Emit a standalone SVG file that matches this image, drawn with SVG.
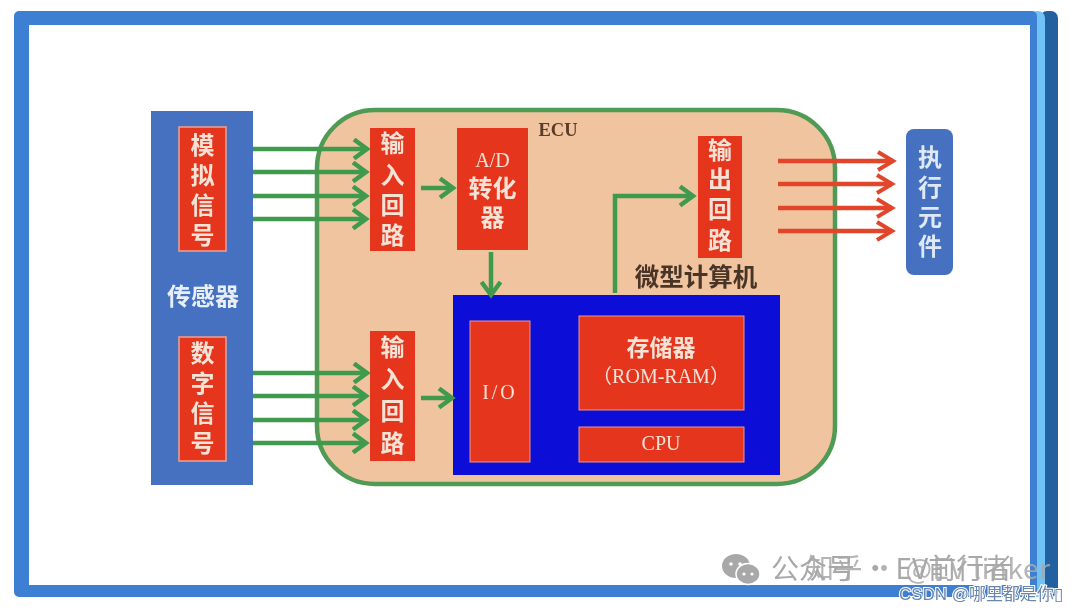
<svg xmlns="http://www.w3.org/2000/svg" width="1080" height="613" viewBox="0 0 1080 613">
<defs>
<marker id="ag" markerUnits="userSpaceOnUse" markerWidth="22" markerHeight="24" refX="17" refY="11" orient="auto"><path d="M4 1.500 L17 11 L4 20.500" fill="none" stroke="#3f9a4e" stroke-width="4.500"/></marker>
<marker id="ar" markerUnits="userSpaceOnUse" markerWidth="22" markerHeight="24" refX="17" refY="11" orient="auto"><path d="M2 2 L17 11 L2 20" fill="none" stroke="#e2452c" stroke-width="4"/></marker>
<filter id="soft" x="0" y="0" width="100%" height="100%"><feGaussianBlur stdDeviation="0.55"/></filter>
</defs>
<style>
text{font-family:"Noto Sans CJK SC","Liberation Serif",serif;text-anchor:middle}
.w{fill:#f6e3d6;font-size:24px;font-weight:700}
.l{fill:#f6e3d6;font-size:20px;font-weight:400;font-family:"Liberation Serif","Noto Sans CJK SC",serif}
.red{fill:#e5351f}
.g{fill:none;stroke:#3f9a4e;stroke-width:4.500}
.r{fill:none;stroke:#e2452c;stroke-width:4.500}
.wm{fill:#a8a8a8;font-family:"Noto Sans CJK SC",sans-serif;font-size:28px;text-anchor:start}
</style>
<rect width="1080" height="613" fill="#fff"/>
<g filter="url(#soft)">
<g id="frame">
<rect x="1040" y="11" width="18" height="586" rx="7" fill="#24609f"/>
<rect x="1030" y="11" width="15" height="586" rx="7" fill="#6fc4f5"/>
<rect x="14" y="11" width="1023" height="586" rx="5" fill="#3e80d3"/>
<rect x="29" y="25" width="1001" height="560" fill="#fff"/>
</g>
<g id="ecu">
<rect x="317" y="110" width="518" height="374" rx="58" fill="#f1c4a0" stroke="#4f9a55" stroke-width="4.500"/>
<text x="558" y="136" font-size="18.500" font-weight="700" fill="#5a3a25" style="font-family:'Liberation Serif',serif">ECU</text>
</g>
<g id="sensor">
<rect x="151" y="111" width="102" height="374" fill="#4471c0"/>
<text x="203" y="305" font-size="24" font-weight="700" fill="#e8eef8">传感器</text>
</g>
<g id="analog">
<rect x="179" y="127" width="47" height="124" class="red" stroke="#f0a090" stroke-width="1.500"/>
<text class="w" x="202.500" y="154">模</text><text class="w" x="202.500" y="184">拟</text><text class="w" x="202.500" y="214">信</text><text class="w" x="202.500" y="244">号</text>
</g>
<g id="digital">
<rect x="179" y="337" width="47" height="124" class="red" stroke="#f0a090" stroke-width="1.500"/>
<text class="w" x="202.500" y="362">数</text><text class="w" x="202.500" y="392">字</text><text class="w" x="202.500" y="422">信</text><text class="w" x="202.500" y="452">号</text>
</g>
<g id="input1">
<rect x="370" y="128" width="45" height="123" class="red"/>
<text class="w" x="392.500" y="152">输</text><text class="w" x="392.500" y="184">入</text><text class="w" x="392.500" y="214">回</text><text class="w" x="392.500" y="244">路</text>
</g>
<g id="input2">
<rect x="370" y="331" width="45" height="130" class="red"/>
<text class="w" x="392.500" y="356">输</text><text class="w" x="392.500" y="388">入</text><text class="w" x="392.500" y="420">回</text><text class="w" x="392.500" y="452">路</text>
</g>
<g id="ad">
<rect x="457" y="128" width="71" height="122" class="red"/>
<text class="l" x="492.500" y="167" font-weight="700">A/D</text>
<text class="w" x="492.500" y="197">转化</text>
<text class="w" x="492.500" y="226">器</text>
</g>
<g id="output">
<rect x="698" y="136" width="44" height="122" class="red"/>
<text class="w" x="720" y="159">输</text><text class="w" x="720" y="188">出</text><text class="w" x="720" y="218">回</text><text class="w" x="720" y="249">路</text>
</g>
<g id="actuator">
<rect x="906" y="129" width="47" height="146" rx="8" fill="#4471c0"/>
<text x="930" y="166" font-size="24" font-weight="700" fill="#dfe8f6">执</text>
<text x="930" y="196" font-size="24" font-weight="700" fill="#dfe8f6">行</text>
<text x="930" y="226" font-size="24" font-weight="700" fill="#dfe8f6">元</text>
<text x="930" y="255" font-size="24" font-weight="700" fill="#dfe8f6">件</text>
</g>
<g id="computer">
<text x="696" y="286" font-size="24.500" font-weight="700" fill="#4a3528">微型计算机</text>
<rect x="453" y="295" width="327" height="180" fill="#0808d8"/>
</g>
<g id="io">
<rect x="470" y="321" width="60" height="141" class="red" stroke="#e89a8c" stroke-width="1"/>
<text class="l" x="500" y="399" style="letter-spacing:3px">I/O</text>
</g>
<g id="memory">
<rect x="579" y="316" width="165" height="94" class="red" stroke="#e89a8c" stroke-width="1"/>
<text x="661" y="356" font-size="23" font-weight="700" fill="#f6e3d6">存储器</text>
<text class="l" x="661" y="383" font-size="18">（ROM-RAM）</text>
</g>
<g id="cpu">
<rect x="579" y="427" width="165" height="35" class="red" stroke="#e89a8c" stroke-width="1"/>
<text class="l" x="661" y="450">CPU</text>
</g>
<g id="connectors">
<path class="g" marker-end="url(#ag)" d="M253 149H367"/>
<path class="g" marker-end="url(#ag)" d="M253 172H366"/>
<path class="g" marker-end="url(#ag)" d="M253 196H366"/>
<path class="g" marker-end="url(#ag)" d="M253 219H366"/>
<path class="g" marker-end="url(#ag)" d="M253 373H367"/>
<path class="g" marker-end="url(#ag)" d="M253 396H366"/>
<path class="g" marker-end="url(#ag)" d="M253 420H366"/>
<path class="g" marker-end="url(#ag)" d="M253 443H366"/>
<path class="g" marker-end="url(#ag)" d="M421 188H453"/>
<path class="g" marker-end="url(#ag)" d="M421 398H452"/>
<path class="g" marker-end="url(#ag)" d="M491 252V295"/>
<path class="g" marker-end="url(#ag)" d="M615 293V196H693"/>
<path class="r" marker-end="url(#ar)" d="M778 161H893"/>
<path class="r" marker-end="url(#ar)" d="M778 184H892"/>
<path class="r" marker-end="url(#ar)" d="M778 208H892"/>
<path class="r" marker-end="url(#ar)" d="M778 231H892"/>
</g>
<g id="watermark">
<ellipse cx="736" cy="566" rx="14" ry="12" fill="#a8a8a8"/>
<ellipse cx="748" cy="574" rx="12" ry="10.500" fill="#a8a8a8" stroke="#fff" stroke-width="1.500"/>
<circle cx="731" cy="564" r="1.800" fill="#fff"/><circle cx="740" cy="564" r="1.800" fill="#fff"/>
<circle cx="744" cy="574" r="1.600" fill="#fff"/><circle cx="752" cy="574" r="1.600" fill="#fff"/>
<text class="wm" x="771" y="579">公众号 · EV前行者</text>
<text class="wm" x="806" y="579" opacity="0.85" textLength="244">知乎 · @EV linker</text>
<text x="981" y="600" font-size="17" fill="#6c86ab" stroke="#fff" stroke-width="2" paint-order="stroke" style="font-family:'Liberation Sans','Noto Sans CJK SC',sans-serif">CSDN @哪里都是你▯</text>
</g>
</g>
</svg>
